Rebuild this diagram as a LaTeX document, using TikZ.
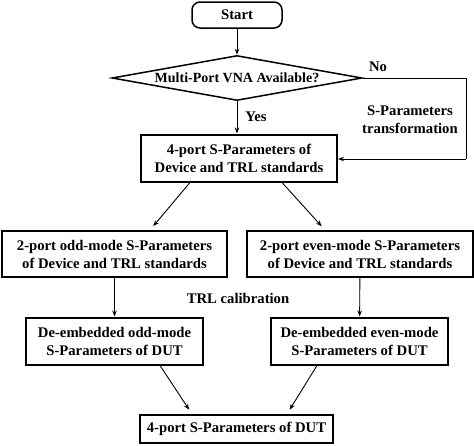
\documentclass[tikz,border=0pt]{standalone}
\usepackage{fontspec}
\setmainfont{Liberation Serif}
\usetikzlibrary{shapes.geometric,arrows.meta,calc}
\begin{document}
\begin{tikzpicture}[x=1pt,y=-1pt,
    font=\fontsize{14.7}{18}\selectfont\bfseries,
    stepbox/.style={draw,line width=2pt,align=center,inner sep=2pt},
    flow/.style={line width=0.9pt,-{Stealth[length=6pt,width=4.5pt]}}]
    \useasboundingbox (0,0) rectangle (474,445);
    % start and question
    \node[draw,line width=1.5pt,rounded corners=8pt,minimum width=90pt,minimum height=26pt]
      (start) at (237,15) {Start};
    \node[draw,line width=1.5pt,diamond,aspect=5.5,inner sep=0pt,
      minimum width=250pt,minimum height=45pt,font=\fontsize{14}{17}\selectfont\bfseries]
      (vna) at (237,78) {Multi-Port VNA Available?};
    \node[stepbox,minimum width=196pt,minimum height=47pt] (four) at (239,158)
      {4-port S-Parameters of\\Device and TRL standards};
    % odd and even branches
    \node[stepbox,minimum width=225pt,minimum height=46pt] (odd) at (114.5,254)
      {2-port odd-mode S-Parameters\\of Device and TRL standards};
    \node[stepbox,minimum width=226pt,minimum height=46pt] (even) at (360,254)
      {2-port even-mode S-Parameters\\of Device and TRL standards};
    \node[stepbox,minimum width=177pt,minimum height=47pt] (deodd) at (114.5,341)
      {De-embedded odd-mode\\S-Parameters of DUT};
    \node[stepbox,minimum width=177pt,minimum height=47pt] (deeven) at (359.5,341)
      {De-embedded even-mode\\S-Parameters of DUT};
    \node[stepbox,minimum width=193pt,minimum height=28pt] (dut) at (236.5,429)
      {4-port S-Parameters of DUT};
    % labels
    \node (no) at (378,67) {No};
    \node (yes) at (256,117) {Yes};
    \node[align=center] (trans) at (410,120) {S-Parameters\\transformation};
    \node (trl) at (238,298) {TRL calibration};
    \coordinate (corner1) at (466,78);
    \coordinate (corner2) at (466,159);
    % connectors
    \draw[flow] (start) -- (vna);
    \draw[flow] (vna) -- (vna |- four.north);
    \draw[line width=0.9pt] (vna.east) -- (corner1) -- (corner2);
    \draw[flow] (corner2) -- (corner2 -| four.east);
    \draw[flow,shorten >=5pt] ($(four.south)+(-49,0)$) -- ($(odd.north)+(35.5,0)$);
    \draw[flow,shorten >=5pt] ($(four.south)+(43,0)$) -- ($(even.north)+(-35,0)$);
    \draw[flow] (odd) -- (deodd);
    \draw[flow] (even) -- (deeven);
    \draw[flow,shorten >=5pt] ($(deodd.south)+(45.5,0)$) -- ($(dut.north)+(-44.5,0)$);
    \draw[flow,shorten >=5pt] ($(deeven.south)+(-42.5,0)$) -- ($(dut.north)+(50.5,0)$);
\end{tikzpicture}
\end{document}
